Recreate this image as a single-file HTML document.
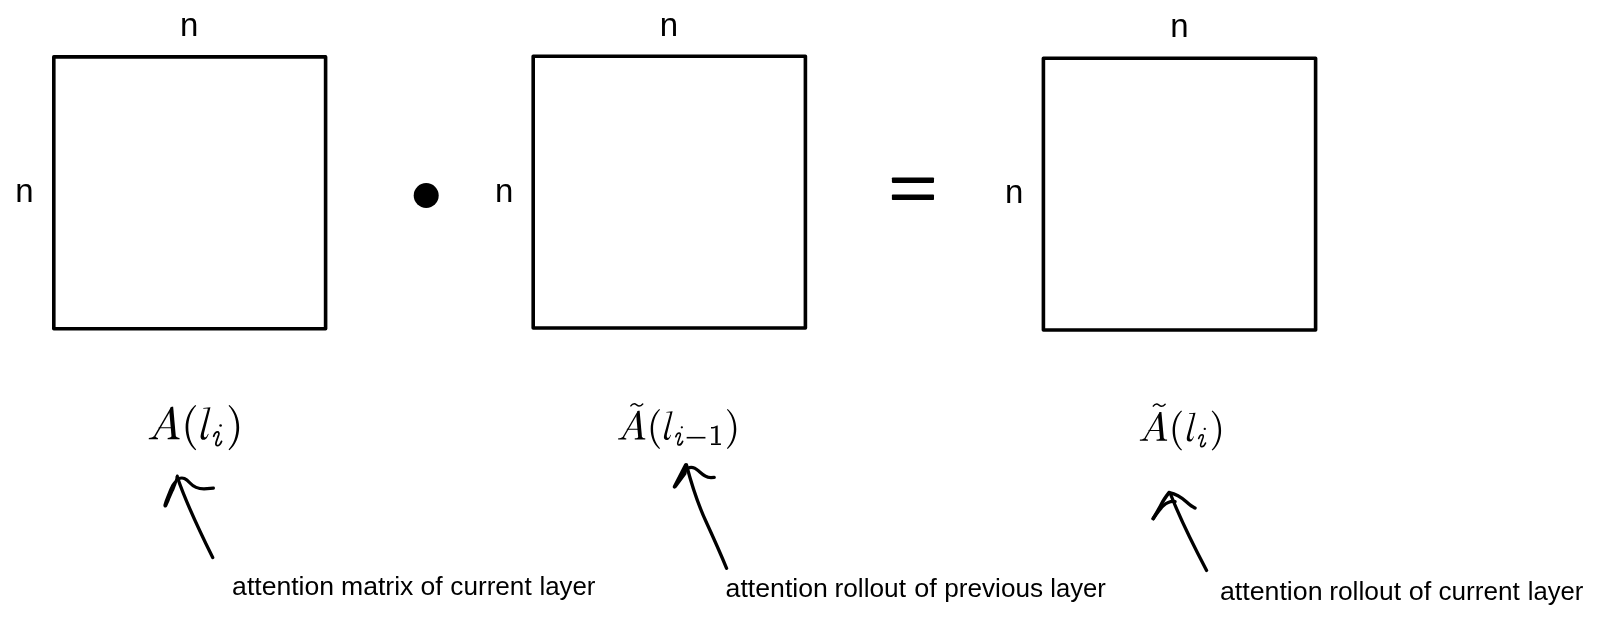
<!DOCTYPE html>
<html><head><meta charset="utf-8">
<style>
html,body{margin:0;padding:0;background:#fff;width:1600px;height:622px;overflow:hidden}
svg{position:absolute;left:0;top:0;will-change:transform}
.s{font-family:"Liberation Sans",sans-serif;fill:#000}
</style></head><body>
<svg width="1600" height="622" viewBox="0 0 1600 622">
<g fill="none" stroke="#000" stroke-width="3.6" stroke-linejoin="round">
<rect x="53.8" y="56.9" width="271.8" height="271.9"/>
<rect x="533.2" y="56.2" width="272.2" height="271.8"/>
<rect x="1043.4" y="58.2" width="272.2" height="271.8"/>
</g>
<g class="s" font-size="33">
<text x="180" y="36.4">n</text>
<text x="15.3" y="201.5">n</text>
<text x="659.8" y="35.5">n</text>
<text x="495" y="201.5">n</text>
<text x="1170.3" y="37.3">n</text>
<text x="1005" y="203.2">n</text>
</g>
<circle cx="426.2" cy="195.5" r="12.5" fill="#000"/>
<rect x="891.9" y="177.4" width="42.1" height="5.5" fill="#000" rx="0.8"/>
<rect x="891.9" y="194.6" width="42.1" height="5.5" fill="#000" rx="0.8"/>
<g class="s" font-size="26.3">
<text transform="matrix(1.0117 0 0 0.975 232.09 595.3)">attention</text>
<text transform="matrix(1.0115 0 0 0.975 341.03 595.3)">matrix</text>
<text transform="matrix(1.0095 0 0 0.975 420.59 595.3)">of</text>
<text transform="matrix(0.9938 0 0 0.975 450.36 595.3)">current</text>
<text transform="matrix(0.9817 0 0 0.975 539.53 595.3)">layer</text>
<text transform="matrix(1.0142 0 0 0.975 725.59 597.0)">attention</text>
<text transform="matrix(0.9986 0 0 0.975 834.50 597.0)">rollout</text>
<text transform="matrix(1.0286 0 0 0.975 914.27 597.0)">of</text>
<text transform="matrix(0.9953 0 0 0.975 944.16 597.0)">previous</text>
<text transform="matrix(0.9753 0 0 0.975 1050.19 597.0)">layer</text>
<text transform="matrix(1.0178 0 0 0.975 1219.88 600.0)">attention</text>
<text transform="matrix(1.0036 0 0 0.975 1329.14 600.0)">rollout</text>
<text transform="matrix(1.0262 0 0 0.975 1408.67 600.0)">of</text>
<text transform="matrix(0.9938 0 0 0.975 1438.46 600.0)">current</text>
<text transform="matrix(0.9753 0 0 0.975 1527.69 600.0)">layer</text>
</g>
<g fill="#000">
<g transform="matrix(1.0 0 0 1.0 0.05 0.15)"><path d="M171.0,406.9 L172.8,406.5 L155.4,436.6 L153.7,436.6 Z"/>
<path d="M170.8,406.9 L173.1,406.5 L175.9,437.6 L171.6,437.6 L169.3,412.2 Z"/>
<path d="M148.7,439.2 L157.9,439.2 L157.9,437.8 C156.5,437.6 155.6,437.2 155.3,436.2 L153.8,436.2 C152.6,437.2 151,437.7 148.8,437.8 Z"/>
<path d="M167.6,439.2 L179.5,439.2 L179.5,437.8 C177.5,437.6 176.4,437.2 176,436.2 L171.6,436.2 C171.3,437.2 170,437.6 167.6,437.8 Z"/>
<path d="M158.9,427.0 L171.9,427.0 L171.9,428.1 L158.3,428.1 Z"/></g>
<g transform="matrix(1.0 0 0 1.0 0.00 0.10)"><path d="M195.3,404.8 C189,410.2 185.6,418.5 185.6,427.5 C185.6,436.5 189,444.8 195.3,450.2 L196.2,449.3 C191,444 188.3,436.3 188.3,427.5 C188.3,418.7 191,411 196.2,405.7 Z"/></g>
<g transform="matrix(1.0 0 0 1.0 -0.25 0.05)"><path d="M203.5,407.9 L210.7,407.1 L204.3,433.0 C203.9,435.0 204.0,437.5 205.3,437.5 C206.6,437.5 207.6,435.6 208.3,433.8 L208.9,434.0 C208.0,436.8 206.6,439.8 203.9,439.8 C201.8,439.8 200.7,438.3 200.8,436.4 C200.9,435.3 201.1,434.2 201.4,433.0 L208.0,409.2 C208.1,408.6 207.9,408.4 207.3,408.4 L203.6,408.6 Z"/></g>
<g transform="matrix(1.0 0 0 1.0 0.30 -0.65)"><path fill="none" stroke="#000" stroke-width="1.8" stroke-linecap="round" d="M213.4,436.9 C214.2,434.5 215.6,432.6 217.2,432.6 C218.4,432.6 218.9,433.8 218.4,435.4 L215.9,442.7 C215.3,444.7 215.6,446.3 216.9,446.3 C218.5,446.3 220.2,444.7 221.2,442.1"/>
<circle cx="220.3" cy="426.1" r="1.3"/></g>
<g transform="matrix(1.0 0 0 1.0 42.75 0.10)"><path transform="translate(382,0) scale(-1,1)" d="M195.3,404.8 C189,410.2 185.6,418.5 185.6,427.5 C185.6,436.5 189,444.8 195.3,450.2 L196.2,449.3 C191,444 188.3,436.3 188.3,427.5 C188.3,418.7 191,411 196.2,405.7 Z"/></g>
<g transform="matrix(1.0 0 0 1.0 -522.45 -0.25)"><path fill="none" stroke="#000" stroke-width="1.4" stroke-linecap="round" d="M1153.3,406.2 C1154.3,404.6 1155.5,404.0 1156.7,404.0 C1158.6,404.0 1159.6,406.3 1161.5,406.3 C1162.9,406.3 1164.0,405.6 1165.2,404.2"/></g>
<g transform="matrix(0.88 0 0 0.88 487.29 53.04)"><path d="M171.0,406.9 L172.8,406.5 L155.4,436.6 L153.7,436.6 Z"/>
<path d="M170.8,406.9 L173.1,406.5 L175.9,437.6 L171.6,437.6 L169.3,412.2 Z"/>
<path d="M148.7,439.2 L157.9,439.2 L157.9,437.8 C156.5,437.6 155.6,437.2 155.3,436.2 L153.8,436.2 C152.6,437.2 151,437.7 148.8,437.8 Z"/>
<path d="M167.6,439.2 L179.5,439.2 L179.5,437.8 C177.5,437.6 176.4,437.2 176,436.2 L171.6,436.2 C171.3,437.2 170,437.6 167.6,437.8 Z"/>
<path d="M158.9,427.0 L171.9,427.0 L171.9,428.1 L158.3,428.1 Z"/></g>
<g transform="matrix(0.88 0 0 0.88 487.36 52.85)"><path d="M195.3,404.8 C189,410.2 185.6,418.5 185.6,427.5 C185.6,436.5 189,444.8 195.3,450.2 L196.2,449.3 C191,444 188.3,436.3 188.3,427.5 C188.3,418.7 191,411 196.2,405.7 Z"/></g>
<g transform="matrix(0.88 0 0 0.88 487.18 53.01)"><path d="M203.5,407.9 L210.7,407.1 L204.3,433.0 C203.9,435.0 204.0,437.5 205.3,437.5 C206.6,437.5 207.6,435.6 208.3,433.8 L208.9,434.0 C208.0,436.8 206.6,439.8 203.9,439.8 C201.8,439.8 200.7,438.3 200.8,436.4 C200.9,435.3 201.1,434.2 201.4,433.0 L208.0,409.2 C208.1,408.6 207.9,408.4 207.3,408.4 L203.6,408.6 Z"/></g>
<g transform="matrix(0.88 0 0 0.88 487.99 52.31)"><path fill="none" stroke="#000" stroke-width="1.8" stroke-linecap="round" d="M213.4,436.9 C214.2,434.5 215.6,432.6 217.2,432.6 C218.4,432.6 218.9,433.8 218.4,435.4 L215.9,442.7 C215.3,444.7 215.6,446.3 216.9,446.3 C218.5,446.3 220.2,444.7 221.2,442.1"/>
<circle cx="220.3" cy="426.1" r="1.3"/></g>
<g transform="matrix(1.0 0 0 1.0 0.35 0.70)"><path d="M686.3,436.2 L705.1,436.2 L705.1,437.8 L686.3,437.8 Z"/></g>
<g transform="matrix(1.0 0 0 1.0 0.00 -0.00)"><path d="M715.3,427.8 L716.8,425.6 L717.7,425.6 L717.7,443.4 L715.3,443.4 Z"/>
<path d="M711.0,427.0 C713,427.2 714.6,426.8 716.6,425.7 L716.9,427.3 C715,428.3 713,428.6 711.0,428.5 Z"/>
<path d="M711.0,443.4 L720.9,443.4 L720.9,445.0 L711.0,445.0 Z"/></g>
<g transform="matrix(0.88 0 0 0.88 563.43 52.85)"><path transform="translate(382,0) scale(-1,1)" d="M195.3,404.8 C189,410.2 185.6,418.5 185.6,427.5 C185.6,436.5 189,444.8 195.3,450.2 L196.2,449.3 C191,444 188.3,436.3 188.3,427.5 C188.3,418.7 191,411 196.2,405.7 Z"/></g>
<g transform="matrix(1.0 0 0 1.0 -0.05 0.00)"><path fill="none" stroke="#000" stroke-width="1.4" stroke-linecap="round" d="M1153.3,406.2 C1154.3,404.6 1155.5,404.0 1156.7,404.0 C1158.6,404.0 1159.6,406.3 1161.5,406.3 C1162.9,406.3 1164.0,405.6 1165.2,404.2"/></g>
<g transform="matrix(0.885 0 0 0.885 1008.22 52.13)"><path d="M171.0,406.9 L172.8,406.5 L155.4,436.6 L153.7,436.6 Z"/>
<path d="M170.8,406.9 L173.1,406.5 L175.9,437.6 L171.6,437.6 L169.3,412.2 Z"/>
<path d="M148.7,439.2 L157.9,439.2 L157.9,437.8 C156.5,437.6 155.6,437.2 155.3,436.2 L153.8,436.2 C152.6,437.2 151,437.7 148.8,437.8 Z"/>
<path d="M167.6,439.2 L179.5,439.2 L179.5,437.8 C177.5,437.6 176.4,437.2 176,436.2 L171.6,436.2 C171.3,437.2 170,437.6 167.6,437.8 Z"/>
<path d="M158.9,427.0 L171.9,427.0 L171.9,428.1 L158.3,428.1 Z"/></g>
<g transform="matrix(0.885 0 0 0.885 1008.35 52.16)"><path d="M195.3,404.8 C189,410.2 185.6,418.5 185.6,427.5 C185.6,436.5 189,444.8 195.3,450.2 L196.2,449.3 C191,444 188.3,436.3 188.3,427.5 C188.3,418.7 191,411 196.2,405.7 Z"/></g>
<g transform="matrix(0.885 0 0 0.885 1009.05 52.35)"><path d="M203.5,407.9 L210.7,407.1 L204.3,433.0 C203.9,435.0 204.0,437.5 205.3,437.5 C206.6,437.5 207.6,435.6 208.3,433.8 L208.9,434.0 C208.0,436.8 206.6,439.8 203.9,439.8 C201.8,439.8 200.7,438.3 200.8,436.4 C200.9,435.3 201.1,434.2 201.4,433.0 L208.0,409.2 C208.1,408.6 207.9,408.4 207.3,408.4 L203.6,408.6 Z"/></g>
<g transform="matrix(0.885 0 0 0.885 1009.80 51.83)"><path fill="none" stroke="#000" stroke-width="1.8" stroke-linecap="round" d="M213.4,436.9 C214.2,434.5 215.6,432.6 217.2,432.6 C218.4,432.6 218.9,433.8 218.4,435.4 L215.9,442.7 C215.3,444.7 215.6,446.3 216.9,446.3 C218.5,446.3 220.2,444.7 221.2,442.1"/>
<circle cx="220.3" cy="426.1" r="1.3"/></g>
<g transform="matrix(0.885 0 0 0.885 1047.28 52.16)"><path transform="translate(382,0) scale(-1,1)" d="M195.3,404.8 C189,410.2 185.6,418.5 185.6,427.5 C185.6,436.5 189,444.8 195.3,450.2 L196.2,449.3 C191,444 188.3,436.3 188.3,427.5 C188.3,418.7 191,411 196.2,405.7 Z"/></g>
</g>
<g fill="#000">
<path d="M175.9,475.7 C176.2,474.2 178.2,473.9 178.7,475.6 C178.7,477.5 177.4,482 176.2,484.9 C175.2,487.5 174.5,489.5 173.5,491.6 L170.2,499 C169.5,501 168.3,503.8 167.2,506.2 C166.5,507.8 164.2,508.2 163.5,506.3 C163.3,505.5 163.3,505 163.5,504.6 C164.2,502 165,499.5 166.1,497 C167.2,494.5 168,492 169.1,489.6 C170,487.5 171,485.2 172.2,483.5 C173.5,481.8 174.8,480.5 174.9,480.1 C175.4,478.7 175.6,477 175.9,475.7 Z"/>
<path d="M684.2,464.0 C684.8,462.9 686.6,462.6 687.6,463.6 C688.2,464.2 688.3,465 688.0,466.0 L686.4,474.2 L676.6,487.6 C675.6,489.0 673.4,489.2 672.8,487.6 C672.6,487 672.7,486.4 673.0,485.8 Z"/>
</g>
<g fill="none" stroke="#000" stroke-linecap="round" stroke-linejoin="round">
<path d="M177.3,477 Q186.7,505 212.7,557.6" stroke-width="3.3"/>
<path d="M178.2,478.8 C183,476.8 186,478.5 190,483 C194,487.5 198,488.8 204,488.8 L213.4,488.1" stroke-width="3.2"/>
<path d="M688.2,468.2 C692,466.2 695,467.8 699,471.3 C703,474.8 706,477.6 711,477.6 L714.3,477.4" stroke-width="3.2"/>
<path d="M686.6,465.5 C691.7,484.8 697.7,503.6 706.1,521.8 C713.2,537.3 720.1,552.6 726.6,568.3" stroke-width="3.3"/>
<path d="M1169,492.6 C1166,496.5 1163.5,500 1161.5,504 C1159,509 1157,512 1153.2,518.6" stroke-width="3.5"/>
<path d="M1175,501.6 C1171,500.8 1167,502.5 1163.5,505.5 C1160,508.5 1157,513 1153.2,518.6" stroke-width="3.4"/>
<path d="M1169.5,492.6 C1176,494 1181,497 1186,501.5 C1189,504.2 1192,506.8 1195,508.0" stroke-width="3.4"/>
<path d="M1170.5,494 C1180.6,520 1193.5,545.6 1206.6,570.4" stroke-width="3.3"/>
</g>
</svg>
</body></html>
